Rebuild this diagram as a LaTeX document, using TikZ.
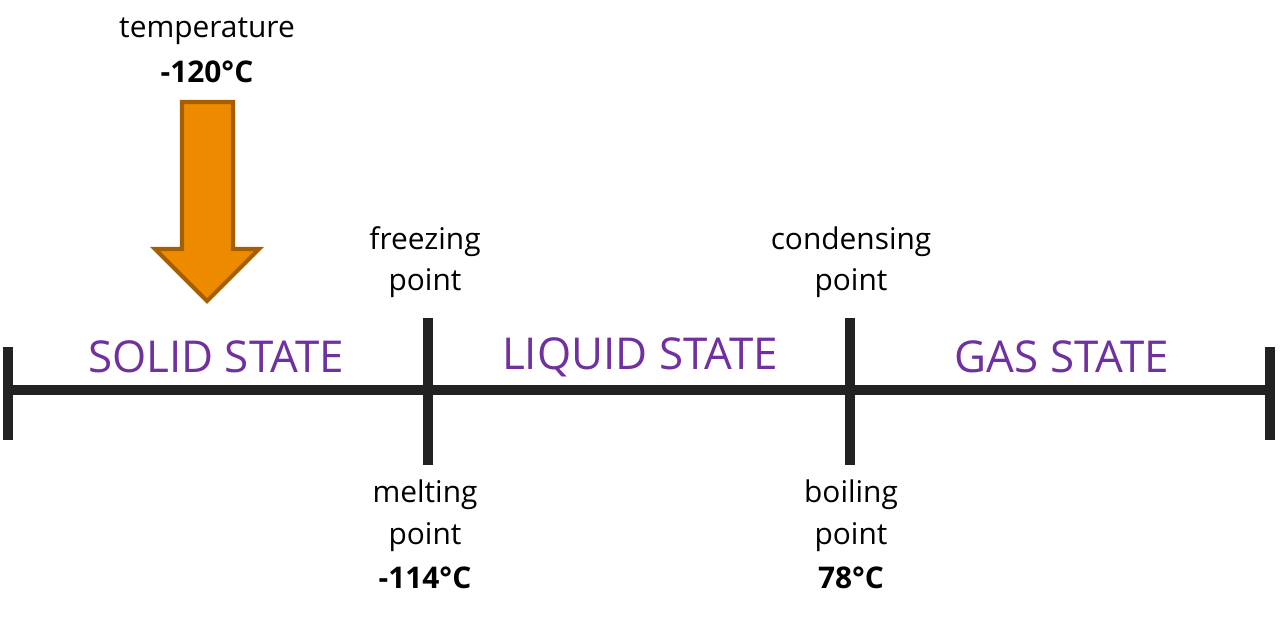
\documentclass[tikz,border=0pt]{standalone}
\usepackage{fontspec}
\setmainfont{Open Sans}
\begin{document}
\begin{tikzpicture}[x=0.02cm,y=-0.02cm,
  lbl/.style={font=\fontsize{17}{20}\selectfont,text=black,inner sep=0},
  bl/.style={lbl,font=\fontsize{17}{20}\selectfont\bfseries},
  st/.style={font=\fontsize{25}{30}\selectfont,text=statecol,inner sep=0},
  bar/.style={line width=5.7pt,color=linecol}]
\definecolor{statecol}{HTML}{7030A0}
\definecolor{linecol}{HTML}{222222}
\definecolor{orfill}{HTML}{EE8A00}
\definecolor{ordraw}{HTML}{A65F00}
\useasboundingbox (0,0) rectangle (1280,619);
\coordinate (L) at (8,390); \coordinate (R) at (1270,390);
\draw[bar] (L) -- (R);
\draw[bar] (8,347) -- (8,440);
\draw[bar] (1270,347) -- (1270,440);
\draw[bar] (428,318) -- (428,465);
\draw[bar] (850,318) -- (850,465);
\draw[fill=orfill,draw=ordraw,line width=2.3pt,line join=miter]
  (182,102) -- (233,102) -- (233,249) -- (259,249) -- (207,301) -- (155,249) -- (182,249) -- cycle;
\node[lbl] (t1) at (207,31) {temperature};
\node[bl] (t2) at (207,72) {-120°C};
\node[lbl] (f1) at (425,242) {freezing};
\node[lbl] (f2) at (425,283) {point};
\node[lbl] (c1) at (851,242) {condensing};
\node[lbl] (c2) at (851,283) {point};
\node[lbl] (m1) at (425,495) {melting};
\node[lbl] (m2) at (425,537) {point};
\node[bl] (m3) at (425,578) {-114°C};
\node[lbl] (b1) at (851,495) {boiling};
\node[lbl] (b2) at (851,537) {point};
\node[bl] (b3) at (851,578) {78°C};
\node[st] (s1) at (216,357) {SOLID STATE};
\node[st] (s2) at (640,357) {LIQUID STATE};
\node[st] (s3) at (1062,357) {GAS STATE};
\end{tikzpicture}
\end{document}
